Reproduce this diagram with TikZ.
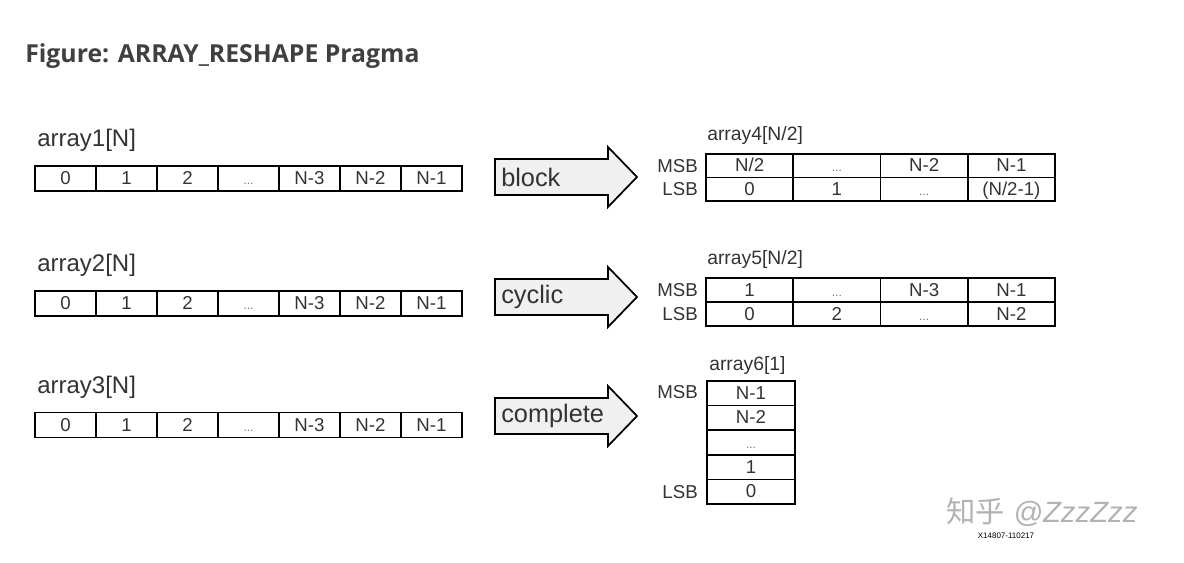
\documentclass[tikz,border=0pt]{standalone}
\usepackage{fontspec}
\setmainfont{Liberation Sans}
\newfontfamily\titlefont{Open Sans}
\newfontfamily\cjkfont{Noto Sans CJK SC}
\usetikzlibrary{positioning}
\definecolor{inkgray}{HTML}{333333}
\definecolor{titlegray}{HTML}{404040}
\definecolor{arrowgray}{HTML}{F0F0F0}
\newcommand{\celldots}{{\color{black!55}\fontsize{9}{9}\selectfont...}}
\begin{document}
\begin{tikzpicture}[x=0.75pt,y=-0.75pt,
    cell/.style={draw=black,line width=1.2pt,minimum height=18.75pt,minimum width=45.75pt,
      inner sep=0pt,text height=10pt,text depth=1pt,text=inkgray,font=\fontsize{14}{14}\selectfont},
    wide cell/.style={cell,minimum width=65.4pt,minimum height=17.7pt},
    tall cell/.style={cell,minimum width=66pt,minimum height=18.45pt},
    arrname/.style={text=inkgray,inner sep=0pt,anchor=west,font=\fontsize{18}{18}\selectfont},
    regname/.style={text=inkgray,inner sep=0pt,anchor=west,font=\fontsize{14.5}{14.5}\selectfont},
    bitname/.style={text=inkgray,inner sep=0pt,anchor=east,font=\fontsize{14}{14}\selectfont},
    optext/.style={text=inkgray,inner sep=0pt,anchor=west,font=\fontsize{19}{19}\selectfont},
    arrowbox/.style={fill=arrowgray,draw=black,line width=1.3pt,line join=miter}]
  \useasboundingbox (0,0) rectangle (1184,562);
  % title
  \node[anchor=base west,inner sep=0pt,text=titlegray,font=\titlefont\bfseries\fontsize{18.6}{18.6}\selectfont]
    (title) at (25,62) {Figure: ARRAY\_RESHAPE Pragma};
  % source arrays
  \foreach \k/\yy in {1/178.5,2/303.5,3/425}{
    \node[arrname] (name\k) at (37,\yy-38) {array\k[N]};
    \foreach \t [count=\i from 0] in {0,1,2,\celldots,N-3,N-2,N-1}
      \node[cell] (a\k-\i) at (65.5+61*\i,\yy) {\t};
  }
  % reshape arrows
  \foreach \k/\yy/\op in {1/177/block,2/297/cyclic,3/416/complete}{
    \filldraw[arrowbox] (495,\yy-18) -- (608,\yy-18) -- (608,\yy-30) -- (637,\yy)
      -- (608,\yy+30) -- (608,\yy+18) -- (495,\yy+18) -- cycle;
    \node[optext] (op\k) at (501,\yy) {\op};
  }
  % array4: block
  \node[regname] (name4) at (707,135) {array4[N/2]};
  \foreach \t [count=\i from 0] in {N/2,\celldots,N-2,N-1}
    \node[wide cell] (m4-\i) at (749.6+87.25*\i,165.7) {\t};
  \foreach \t [count=\i from 0] in {0,1,\celldots,(N/2-1)}
    \node[wide cell] (l4-\i) at (749.6+87.25*\i,189.3) {\t};
  \node[bitname] (msb4) at (698,165.7) {MSB};
  \node[bitname] (lsb4) at (698,189.3) {LSB};
  % array5: cyclic
  \node[regname] (name5) at (707,259) {array5[N/2]};
  \foreach \t [count=\i from 0] in {1,\celldots,N-3,N-1}
    \node[wide cell] (m5-\i) at (749.6+87.25*\i,290) {\t};
  \foreach \t [count=\i from 0] in {0,2,\celldots,N-2}
    \node[wide cell] (l5-\i) at (749.6+87.25*\i,314) {\t};
  \node[bitname] (msb5) at (698,290) {MSB};
  \node[bitname] (lsb5) at (698,314) {LSB};
  % array6: complete
  \node[regname] (name6) at (709,365) {array6[1]};
  \foreach \t [count=\i from 0] in {N-1,N-2,\celldots,1,0}
    \node[tall cell] (c6-\i) at (751,393.3+24.6*\i) {\t};
  \node[bitname] (msb6) at (698,392) {MSB};
  \node[bitname] (lsb6) at (698,492) {LSB};
  % watermark and figure id
  \node[text=black!30,inner sep=0pt,font=\fontsize{22}{22}\selectfont] (mark) at (1042,512)
    {{\cjkfont 知乎} \textit{@ZzzZzz}};
  \node[text=black,inner sep=0pt,font=\fontsize{6}{6}\selectfont] (figid) at (1006,536) {X14807-110217};
\end{tikzpicture}
\end{document}
